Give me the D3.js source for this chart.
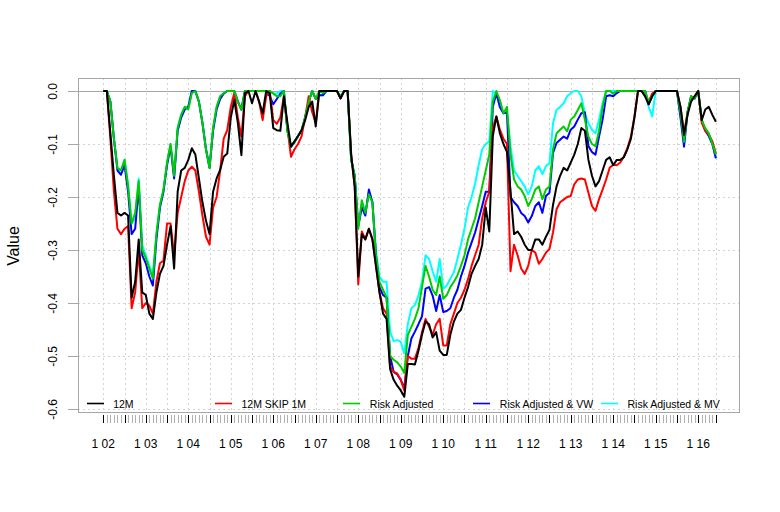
<!DOCTYPE html>
<html><head><meta charset="utf-8">
<script src="https://cdn.jsdelivr.net/npm/d3@7"></script>
<style>
body{margin:0;background:#fff}
svg{display:block}
text{font-family:Arial,"Liberation Sans",sans-serif}
</style>
</head><body>
<svg id="c" width="780" height="512"></svg>
<script>
// month index 0 = Jan 2002 ... 173 = Jun 2016
const monthCount = 174;
const yearLabels = ["1 02","1 03","1 04","1 05","1 06","1 07","1 08","1 09","1 10","1 11","1 12","1 13","1 14","1 15","1 16"];
const yTicks = [0, -0.1, -0.2, -0.3, -0.4, -0.5, -0.6];
const seriesNames = ["12M", "12M SKIP 1M", "Risk Adjusted", "Risk Adjusted & VW", "Risk Adjusted & MV"];

const s12M = [0, 0, -0.08, -0.16, -0.23, -0.235, -0.23, -0.235, -0.39, -0.36,
-0.28, -0.38, -0.385, -0.42, -0.43, -0.38, -0.345, -0.33, -0.29, -0.255,
-0.335, -0.19, -0.15, -0.145, -0.13, -0.108, -0.12, -0.165, -0.21, -0.245,
-0.27, -0.19, -0.165, -0.149, -0.124, -0.118, -0.05, -0.017, -0.06, -0.121,
-0.004, 0, -0.023, 0, -0.02, -0.042, 0, -0.004, -0.07, -0.074,
-0.075, -0.01, -0.06, -0.105, -0.095, -0.085, -0.074, -0.055, -0.03, -0.02,
-0.067, 0, 0, 0, 0, 0, 0, -0.014, 0, 0,
-0.12, -0.18, -0.35, -0.27, -0.28, -0.26, -0.28, -0.33, -0.38, -0.42,
-0.43, -0.525, -0.545, -0.556, -0.565, -0.577, -0.515, -0.515, -0.516, -0.49,
-0.46, -0.435, -0.44, -0.465, -0.455, -0.49, -0.498, -0.498, -0.46, -0.435,
-0.42, -0.413, -0.39, -0.37, -0.345, -0.33, -0.317, -0.29, -0.22, -0.265,
-0.085, -0.048, -0.08, -0.1, -0.115, -0.19, -0.27, -0.265, -0.275, -0.29,
-0.3, -0.3, -0.28, -0.28, -0.29, -0.275, -0.262, -0.215, -0.18, -0.16,
-0.145, -0.15, -0.135, -0.12, -0.1, -0.07, -0.075, -0.13, -0.16, -0.18,
-0.17, -0.15, -0.13, -0.125, -0.14, -0.13, -0.13, -0.125, -0.11, -0.09,
-0.05, 0, 0, -0.01, -0.025, -0.01, 0, 0, 0, 0,
0, 0, 0, -0.03, -0.083, -0.045, -0.02, -0.01, 0, -0.055,
-0.035, -0.03, -0.045, -0.058];

const s12MSkip1M = [0, 0, -0.09, -0.19, -0.26, -0.27, -0.26, -0.255, -0.41, -0.38,
-0.3, -0.41, -0.4, -0.405, -0.42, -0.36, -0.325, -0.32, -0.25, -0.25,
-0.31, -0.23, -0.2, -0.17, -0.15, -0.143, -0.15, -0.19, -0.235, -0.275,
-0.29, -0.22, -0.2, -0.15, -0.09, -0.074, -0.03, -0.004, -0.05, -0.086,
-0.01, 0, 0, 0, -0.02, -0.055, -0.01, 0, -0.055, -0.062,
-0.05, -0.01, -0.07, -0.124, -0.11, -0.1, -0.085, -0.05, -0.01, -0.04,
-0.06, 0, 0, 0, 0, 0, 0, -0.014, 0, 0,
-0.12, -0.18, -0.365, -0.265, -0.28, -0.26, -0.28, -0.33, -0.38, -0.41,
-0.42, -0.52, -0.53, -0.533, -0.545, -0.565, -0.5, -0.505, -0.505, -0.485,
-0.455, -0.43, -0.445, -0.46, -0.44, -0.43, -0.48, -0.48, -0.44, -0.42,
-0.4, -0.39, -0.375, -0.355, -0.33, -0.31, -0.29, -0.24, -0.21, -0.19,
-0.07, -0.048, -0.073, -0.09, -0.1, -0.34, -0.29, -0.31, -0.335, -0.345,
-0.33, -0.3, -0.305, -0.326, -0.317, -0.305, -0.298, -0.267, -0.223, -0.21,
-0.205, -0.2, -0.198, -0.176, -0.167, -0.165, -0.167, -0.192, -0.217, -0.226,
-0.204, -0.186, -0.167, -0.145, -0.139, -0.14, -0.135, -0.124, -0.108, -0.086,
-0.048, 0, 0, -0.01, -0.02, -0.005, 0, 0, 0, 0,
0, 0, 0, -0.03, -0.08, -0.04, -0.015, -0.01, 0, -0.06,
-0.075, -0.082, -0.095, -0.118];

const sRiskAdj = [0, 0, -0.02, -0.09, -0.145, -0.15, -0.13, -0.18, -0.25, -0.23,
-0.17, -0.3, -0.315, -0.335, -0.354, -0.27, -0.215, -0.186, -0.135, -0.1,
-0.16, -0.07, -0.045, -0.03, -0.035, -0.004, 0, -0.02, -0.06, -0.11,
-0.145, -0.07, -0.03, -0.01, -0.004, 0, 0, 0, -0.02, -0.035,
0, 0, 0, 0, 0, 0, 0, 0, -0.005, -0.01,
-0.01, 0, -0.075, -0.105, -0.096, -0.085, -0.074, -0.05, -0.02, 0,
-0.015, 0, -0.004, 0, 0, 0, 0, -0.01, 0, 0,
-0.13, -0.16, -0.26, -0.206, -0.23, -0.195, -0.21, -0.31, -0.36, -0.375,
-0.39, -0.5, -0.507, -0.512, -0.52, -0.532, -0.46, -0.445, -0.43, -0.41,
-0.37, -0.33, -0.35, -0.375, -0.385, -0.35, -0.392, -0.385, -0.37, -0.36,
-0.348, -0.33, -0.31, -0.28, -0.26, -0.24, -0.21, -0.18, -0.15, -0.12,
-0.02, 0, -0.017, -0.042, -0.03, -0.12, -0.167, -0.18, -0.186, -0.198,
-0.217, -0.204, -0.186, -0.18, -0.204, -0.186, -0.18, -0.11, -0.08, -0.073,
-0.067, -0.076, -0.054, -0.048, -0.036, -0.023, -0.054, -0.086, -0.1, -0.104,
-0.075, -0.03, 0, 0, -0.005, 0, 0, 0, 0, 0,
0, 0, 0, 0, -0.02, -0.01, 0, 0, 0, 0,
0, 0, 0, -0.04, -0.096, -0.04, -0.01, -0.014, 0, -0.055,
-0.07, -0.08, -0.1, -0.12];

const sRiskAdjVW = [0, 0, -0.02, -0.09, -0.15, -0.158, -0.14, -0.19, -0.27, -0.26,
-0.18, -0.31, -0.325, -0.35, -0.367, -0.28, -0.22, -0.19, -0.14, -0.105,
-0.165, -0.075, -0.05, -0.035, -0.03, 0, 0, -0.02, -0.06, -0.11,
-0.145, -0.075, -0.035, -0.015, -0.005, 0, 0, 0, -0.02, -0.035,
0, 0, 0, 0, 0, 0, 0, -0.01, -0.025, -0.015,
-0.005, 0, -0.075, -0.105, -0.096, -0.085, -0.074, -0.05, -0.02, 0,
-0.015, -0.008, -0.008, 0, 0, 0, 0, -0.014, 0, 0,
-0.13, -0.16, -0.255, -0.22, -0.235, -0.186, -0.21, -0.31, -0.37, -0.385,
-0.39, -0.5, -0.53, -0.535, -0.545, -0.56, -0.5, -0.467, -0.454, -0.44,
-0.425, -0.373, -0.37, -0.386, -0.415, -0.385, -0.417, -0.415, -0.41, -0.39,
-0.375, -0.35, -0.33, -0.305, -0.286, -0.267, -0.242, -0.217, -0.19, -0.19,
-0.03, -0.004, -0.03, -0.042, -0.04, -0.2, -0.21, -0.217, -0.23, -0.236,
-0.248, -0.236, -0.217, -0.21, -0.23, -0.198, -0.192, -0.117, -0.098, -0.092,
-0.086, -0.09, -0.073, -0.067, -0.054, -0.042, -0.04, -0.104, -0.115, -0.12,
-0.086, -0.054, -0.01, -0.008, -0.01, -0.004, 0, 0, 0, 0,
0, 0, 0, 0, -0.025, -0.01, 0, 0, 0, 0,
0, 0, 0, -0.05, -0.105, -0.04, -0.01, -0.014, 0, -0.055,
-0.075, -0.085, -0.1, -0.127];

const sRiskAdjMV = [0, 0, -0.02, -0.09, -0.145, -0.15, -0.13, -0.175, -0.25, -0.24,
-0.165, -0.29, -0.31, -0.33, -0.345, -0.27, -0.215, -0.186, -0.135, -0.1,
-0.16, -0.07, -0.045, -0.03, -0.03, 0, 0, -0.02, -0.06, -0.11,
-0.145, -0.07, -0.03, -0.01, -0.004, 0, 0, 0, -0.02, -0.035,
0, 0, 0, 0, 0, 0, 0, 0, -0.004, -0.005,
0, 0, -0.075, -0.105, -0.096, -0.085, -0.074, -0.05, -0.02, 0,
-0.015, -0.008, -0.008, 0, 0, 0, 0, -0.01, 0, 0,
-0.13, -0.16, -0.255, -0.215, -0.23, -0.19, -0.21, -0.3, -0.35, -0.36,
-0.36, -0.454, -0.472, -0.47, -0.473, -0.495, -0.44, -0.41, -0.404, -0.386,
-0.36, -0.31, -0.317, -0.34, -0.36, -0.317, -0.373, -0.367, -0.354, -0.342,
-0.317, -0.29, -0.26, -0.22, -0.2, -0.175, -0.14, -0.11, -0.1, -0.095,
0, -0.004, -0.03, -0.042, -0.042, -0.104, -0.15, -0.16, -0.17, -0.18,
-0.195, -0.18, -0.15, -0.142, -0.157, -0.142, -0.136, -0.061, -0.036, -0.03,
-0.023, -0.01, -0.004, 0, 0, -0.01, -0.042, -0.061, -0.073, -0.08,
-0.054, -0.023, 0, 0, 0, 0, 0, 0, 0, 0,
0, 0, 0, 0, -0.03, -0.048, 0, 0, 0, 0,
0, 0, 0, -0.045, -0.1, -0.04, -0.01, -0.014, 0, -0.055,
-0.075, -0.085, -0.1, -0.127];

const seriesList = [s12M, s12MSkip1M, sRiskAdj, sRiskAdjVW, sRiskAdjMV];
const colors = ["#000000", "#ff0000", "#00cd00", "#0000ff", "#00ffff"];
const drawOrder = [4, 3, 1, 2, 0];

const svg = d3.select("#c");
const L = 78, R = 739, T = 78, B = 412;
const months = d3.range(monthCount);
const x = d3.scaleLinear().domain([0, monthCount - 1]).range([103.3, 715.9]);
const y = d3.scaleLinear().domain([0, -0.6]).range([91, 409]);

// grid
const majorMonths = months.filter(m => m % 6 === 0).concat([monthCount - 1]);
const grid = svg.append("g").attr("stroke", "#d3d3d3").attr("stroke-dasharray", "2,3").attr("shape-rendering", "crispEdges");
grid.selectAll("line.h").data(yTicks.slice(1)).join("line").attr("class", "h")
  .attr("x1", L).attr("x2", R).attr("y1", d => Math.round(y(d)) + 0.5).attr("y2", d => Math.round(y(d)) + 0.5);
grid.selectAll("line.v").data(majorMonths).join("line").attr("class", "v")
  .attr("y1", T).attr("y2", B).attr("x1", d => Math.round(x(d)) + 0.5).attr("x2", d => Math.round(x(d)) + 0.5);

// zero line
svg.append("line").attr("x1", L).attr("x2", R).attr("y1", Math.round(y(0)) + 0.5).attr("y2", Math.round(y(0)) + 0.5)
  .attr("stroke", "#a6a6a6").attr("shape-rendering", "crispEdges");

// series
const line = d3.line().x((d, i) => x(i)).y(d => y(d));
drawOrder.forEach(k => {
  svg.append("path").datum(seriesList[k]).attr("d", line)
    .attr("fill", "none").attr("stroke", colors[k]).attr("stroke-width", 2)
    .attr("stroke-linejoin", "round");
});

// box
svg.append("rect").attr("x", L + 0.5).attr("y", T + 0.5).attr("width", R - L).attr("height", B - T)
  .attr("fill", "none").attr("stroke", "#a6a6a6").attr("shape-rendering", "crispEdges");

// y axis
const yAx = svg.append("g").attr("transform", `translate(${L},0)`)
  .call(d3.axisLeft(y).tickValues(yTicks).tickSize(10).tickPadding(0).tickFormat(d => d.toFixed(1)));
yAx.select(".domain").remove();
yAx.selectAll(".tick line").attr("stroke", "#a6a6a6").attr("shape-rendering", "crispEdges");
yAx.selectAll(".tick text").attr("font-size", 12).attr("fill", "#000").attr("font-family", "Arial, 'Liberation Sans', sans-serif")
  .attr("text-anchor", "middle").attr("x", 0).attr("dy", 0)
  .attr("transform", "translate(-21,0) rotate(-90)");

// x axis minor ticks
const xAxMinor = svg.append("g").attr("transform", `translate(0,415)`)
  .call(d3.axisBottom(x).tickValues(months).tickSize(8).tickFormat(""));
xAxMinor.select(".domain").remove();
xAxMinor.selectAll(".tick line").attr("stroke", "#b0b0b0").attr("shape-rendering", "crispEdges");
const xAxMajor = svg.append("g").attr("transform", `translate(0,415)`)
  .call(d3.axisBottom(x).tickValues(majorMonths).tickSize(8).tickFormat(""));
xAxMajor.select(".domain").remove();
xAxMajor.selectAll(".tick line").attr("stroke", "#000").attr("shape-rendering", "crispEdges");

// year labels
svg.append("g").selectAll("text").data(yearLabels).join("text")
  .attr("x", (d, i) => x(i * 12)).attr("y", 447.5).attr("text-anchor", "middle")
  .attr("font-size", 12).attr("fill", "#000").text(d => d);

// y title
svg.append("text").attr("transform", "translate(19,246) rotate(-90)").attr("text-anchor", "middle")
  .attr("font-size", 16).attr("fill", "#000").text("Value");

// legend
const legX = [86.7, 215, 343.3, 473.3, 601];
const leg = svg.append("g");
seriesNames.forEach((n, k) => {
  leg.append("line").attr("x1", Math.round(legX[k])).attr("x2", Math.round(legX[k]) + 17).attr("y1", 403.5).attr("y2", 403.5)
    .attr("stroke", colors[k]).attr("stroke-width", 1.6);
  leg.append("text").attr("x", legX[k] + 26.5).attr("y", 407.5).attr("font-size", 10.5).attr("fill", "#000").text(n);
});
</script>
</body></html>
